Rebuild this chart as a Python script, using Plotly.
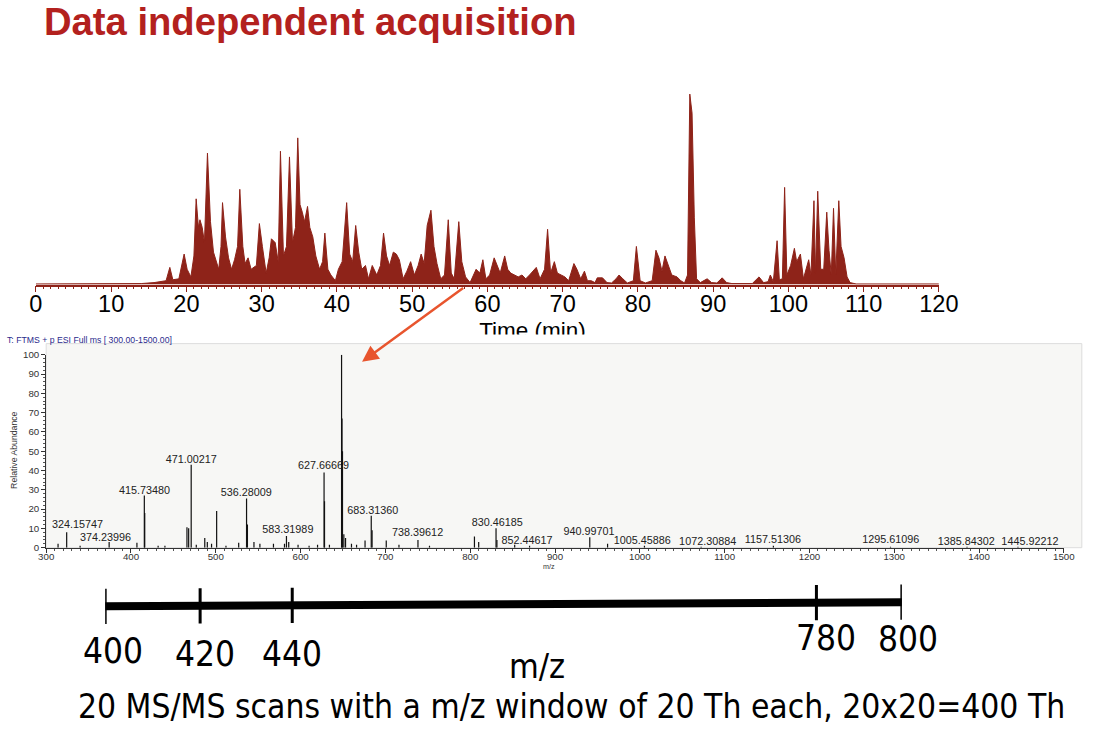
import plotly.graph_objects as go

W, H = 1105, 731
# The photographed page shows the figure offset by the page margin and slightly scaled;
# positions below are given in the photographed picture's pixels and mapped back here.
S, OFF = 0.975, 8


def X(a):
    return (a / S - OFF) / W


def Y(a):
    return 1 - (a / S - OFF) / H


# ---------------- data ----------------
chrom_time = [0, 5, 10, 14, 15.7, 16.5, 17.3, 17.8, 18.2, 19.0, 19.4, 19.7, 20.1, 20.6, 21.0, 21.3, 21.6,
              21.8, 22.1, 22.4, 22.8, 23.2, 23.6, 24.0, 24.3, 24.6, 24.8, 25.2, 25.6, 26.0, 26.4, 26.8,
              27.1, 27.5, 27.8, 28.2, 28.6, 29.3, 29.7, 30.1, 30.6, 31.0, 31.3, 31.8, 32.2, 32.5, 32.9,
              33.3, 33.7, 34.1, 34.5, 34.8, 35.1, 35.4, 35.7, 36.1, 36.4, 36.8, 37.2, 37.7, 38.1, 38.4,
              38.8, 39.2, 39.8, 40.2, 40.7, 41.3, 41.7, 42.1, 42.5, 42.9, 43.3, 43.8, 44.2, 44.7, 45.3,
              45.8, 46.2, 46.6, 47.0, 47.5, 47.9, 48.3, 48.8, 49.3, 49.8, 50.3, 50.8, 51.2, 51.6, 52.0,
              52.5, 52.9, 53.3, 53.8, 54.3, 54.8, 55.2, 55.6, 56.2, 56.6, 57.1, 57.7, 58.5, 59.0, 59.4,
              59.8, 60.3, 60.9, 61.3, 61.7, 62.3, 62.7, 63.1, 63.6, 64.1, 64.6, 65.1, 65.6, 66.5, 67.0,
              67.6, 68.0, 68.4, 68.9, 69.3, 69.8, 70.3, 70.8, 71.5, 71.9, 72.4, 72.9, 73.3, 73.8, 74.3,
              74.6, 75.3, 75.9, 76.5, 77.1, 77.5, 78.0, 78.6, 79.4, 79.8, 80.3, 81.0, 81.9, 82.4, 82.8,
              83.2, 83.6, 84.0, 84.5, 85.2, 85.7, 86.2, 86.6, 86.9, 87.2, 87.5, 87.8, 88.3, 89.2, 89.8,
              90.5, 91.2, 91.8, 92.5, 95.2, 96.1, 96.7, 97.3, 97.6, 98.0, 98.5, 98.8, 99.2, 99.5, 99.8,
              100.3, 100.8, 101.1, 101.6, 102.0, 102.4, 102.7, 103.0, 103.4, 103.6, 103.9, 104.3, 104.7,
              105.1, 105.4, 105.7, 106.0, 106.3, 106.7, 107.0, 107.4, 107.8, 108.2, 109.0, 115, 120]
chrom_intensity = [0.3, 0.4, 0.4, 0.5, 1.0, 1.5, 2, 9, 2.5, 3, 10, 16, 8, 4, 15, 45, 30,
                   34, 30, 22, 69, 33, 17, 11, 8, 20, 43, 25, 14, 8, 13, 20,
                   50, 20, 11, 14, 8, 10, 32, 20, 6, 14, 24, 22, 12, 70, 15,
                   20, 67, 22, 30, 77, 42, 38, 33, 41, 30, 25, 15, 8, 12, 27,
                   8, 5, 2, 8, 12, 43, 16, 12, 31, 17, 8, 10, 3, 10, 5,
                   10, 27, 15, 10, 17, 16, 13, 3, 7, 12, 5, 10, 16, 11, 31,
                   39, 20, 11, 3, 5, 34, 6, 3, 33, 12, 4, 1, 8, 6, 13,
                   3, 5, 14, 10, 6, 15, 8, 6, 5, 4, 5, 3, 5, 9, 3,
                   8, 29, 6, 12, 6, 5, 4, 2, 11, 8, 3, 7, 2, 2, 1,
                   3.5, 3.5, 1, 0.8, 3, 5, 3, 0.8, 2, 20, 2, 0.8, 2, 18, 14,
                   7, 15, 10, 5, 4, 2, 0.8, 5, 100, 90, 35, 3, 1, 3, 1,
                   0.8, 3.5, 1, 0.5, 0.5, 4, 1, 1.5, 5, 1.5, 23, 2.5, 3, 51, 5,
                   10, 19, 12, 16, 3, 8, 13, 5, 44, 6, 49, 8, 8,
                   38, 18, 5, 40, 5, 44, 20, 14, 4, 1, 0.3, 0.3, 0.3]
time_ticks = list(range(0, 121, 10))

spec_mz = [314, 324.16, 340, 374.24, 407, 415.73, 416.2, 432, 440, 466, 468, 471.00, 477, 487, 490, 495,
           501, 512, 527, 536.28, 537.3, 545, 552, 568, 581, 583.32, 586, 597, 610, 620, 627.67, 628.2,
           634, 648.31, 648.8, 649.4, 651, 653, 660, 666, 676, 683.31, 684.3, 701, 716, 738.40, 752,
           805, 810, 830.46, 831.5, 852.45, 870, 941.0, 962, 1005.46, 1072.31, 1157.51, 1295.61,
           1385.84, 1445.92]
spec_abundance = [2, 8, 1, 3, 2.6, 27, 18, 1, 1, 10.6, 10, 43, 1.5, 5, 3, 2,
                  19, 1, 2.6, 25.5, 12, 3, 2, 2, 2, 6, 3, 1.5, 1, 1.5, 39, 24,
                  1.5, 100, 67, 50, 7, 5, 2, 1.5, 3.7, 16.6, 9, 3.7, 1.5, 4, 1,
                  5.8, 3, 10, 4, 1.5, 1, 5.4, 2, 1, 0.5, 1, 0.5,
                  0.5, 0.5]
peak_labels = ["324.15747", "374.23996", "415.73480", "471.00217", "536.28009", "583.31989",
               "627.66669", "648.30872", "683.31360", "738.39612", "830.46185", "852.44617",
               "940.99701", "1005.45886", "1072.30884", "1157.51306", "1295.61096", "1385.84302",
               "1445.92212"]
peak_label_mz = [337, 370, 416, 471, 536, 585, 627, 647, 685, 738, 832, 867, 940, 1003, 1080, 1157,
                 1296, 1385, 1460]
peak_label_abundance = [11.6, 4.8, 29, 45.5, 28.4, 8.8, 42, 103.5, 19, 7.2, 12.7, 3.1, 8, 3.1, 2.8,
                        3.7, 3.7, 2.8, 2.8]

window_edges = ["400", "420", "440", "780", "800"]
window_slots = [0, 1, 1.97, 7.49, 8.39]          # schematic (non-linear) positions
window_line_level = [0.733, 0.767]               # slight tilt of the drawn bar
label_drop = [0.365, 0.40, 0.405, 0.295, 0.30]
label_shift = [8, 5, 0, 9, 6]

DARK_RED = "#8E2319"
TITLE_RED = "#B3211E"
ARROW = "#E8552E"
FONT = "Liberation Sans, Arial, sans-serif"
HAND = "DejaVu Sans Condensed, DejaVu Sans, sans-serif"

fig = go.Figure()

# ---------------- chromatogram ----------------
fig.add_trace(go.Scatter(
    x=chrom_time, y=chrom_intensity, mode="lines", fill="tozeroy",
    line=dict(color=DARK_RED, width=1), fillcolor=DARK_RED,
    xaxis="x", yaxis="y", hoverinfo="skip", showlegend=False))

# axis title, partly hidden under the spectrum image edge (clipped to a thin band)
fig.add_trace(go.Scatter(
    x=[66], y=[0.0], mode="text", text=["Time (min)"], textposition="middle center",
    textfont=dict(family=FONT, size=22.5, color="black"), cliponaxis=True,
    xaxis="x4", yaxis="y4", hoverinfo="skip", showlegend=False))

# ---------------- mass spectrum ----------------
sx, sy = [], []
for m, a in zip(spec_mz, spec_abundance):
    sx += [m, m, None]
    sy += [0, a, None]
fig.add_trace(go.Scatter(
    x=sx, y=sy, mode="lines", line=dict(color="#111111", width=1.2),
    xaxis="x2", yaxis="y2", hoverinfo="skip", showlegend=False))

fig.add_trace(go.Scatter(
    x=peak_label_mz, y=peak_label_abundance, mode="text", text=peak_labels,
    textposition="middle center", textfont=dict(family=FONT, size=10.8, color="#222222"),
    cliponaxis=False, xaxis="x2", yaxis="y2", hoverinfo="skip", showlegend=False))

# ---------------- m/z window schematic ----------------
slope = (window_line_level[1] - window_line_level[0]) / (window_slots[-1] - window_slots[0])
levels = [window_line_level[0] + slope * (s - window_slots[0]) for s in window_slots]
fig.add_trace(go.Scatter(
    x=[window_slots[0], window_slots[-1]], y=window_line_level, mode="lines",
    line=dict(color="black", width=8), xaxis="x3", yaxis="y3",
    hoverinfo="skip", showlegend=False))
tx, ty = [], []
for s, lv in zip(window_slots, levels):
    tx += [s, s, None]
    ty += [lv - 0.145, lv + 0.145, None]
fig.add_trace(go.Scatter(
    x=tx, y=ty, mode="lines", line=dict(color="black", width=3),
    xaxis="x3", yaxis="y3", hoverinfo="skip", showlegend=False))

for lab, s, lv, drop, sh in zip(window_edges, window_slots, levels, label_drop, label_shift):
    fig.add_annotation(x=s, y=lv - drop, xref="x3", yref="y3", text=lab, showarrow=False,
                       xshift=sh / S, xanchor="center", yanchor="middle",
                       font=dict(family=HAND, size=35, color="black"))

# ---------------- layout ----------------
fig.update_layout(
    width=W, height=H, autosize=False,
    margin=dict(l=0, r=0, t=0, b=0),
    paper_bgcolor="white", plot_bgcolor="rgba(0,0,0,0)",
    showlegend=False,
    xaxis=dict(domain=[X(35.7), X(939)], range=[0, 120], anchor="y",
               tickvals=time_ticks, showline=True, linecolor=DARK_RED, linewidth=1.5,
               ticks="outside", ticklen=6, tickwidth=1.2, tickcolor=DARK_RED,
               minor=dict(dtick=1, ticks="outside", ticklen=3, tickcolor=DARK_RED),
               ticklabelstandoff=-8,
               showgrid=False, zeroline=False,
               tickfont=dict(family=FONT, size=23.5, color="black")),
    yaxis=dict(domain=[Y(283.5), Y(95)], range=[0, 100], visible=False, fixedrange=True),
    # thin band used only to clip the partly hidden time-axis title
    xaxis4=dict(domain=[X(35.7), X(939)], range=[0, 120], visible=False, anchor="y4"),
    yaxis4=dict(domain=[Y(333), Y(300)], range=[-0.06, 0.94], visible=False, anchor="x4"),
    xaxis2=dict(domain=[X(46), X(1064)], range=[300, 1500], anchor="y2",
                dtick=100, showline=True, linecolor="#333333", linewidth=1,
                ticks="outside", ticklen=4, tickcolor="#333333",
                minor=dict(dtick=10, ticks="outside", ticklen=2, tickcolor="#555555"),
                ticklabelstandoff=-4,
                showgrid=False, zeroline=False,
                tickfont=dict(family=FONT, size=9.7, color="#333333")),
    yaxis2=dict(domain=[Y(544), Y(353)], range=[0, 100], anchor="x2",
                dtick=10, showline=True, linecolor="#333333", linewidth=1,
                ticks="outside", ticklen=4, tickcolor="#333333",
                minor=dict(dtick=2, ticks="outside", ticklen=2, tickcolor="#555555"),
                showgrid=False, zeroline=False,
                tickfont=dict(family=FONT, size=9.7, color="#333333")),
    xaxis3=dict(domain=[X(105), X(902)], range=[window_slots[0], window_slots[-1]],
                visible=False, anchor="y3"),
    yaxis3=dict(domain=[Y(690), Y(570)], range=[0, 1], visible=False, anchor="x3"),
)

# spectrum panel background
fig.add_shape(type="rect", xref="paper", yref="paper",
              x0=X(46), x1=X(1082), y0=Y(544), y1=Y(342),
              fillcolor="#F7F7F5", line=dict(color="#DDDDDD", width=1), layer="below")


def note(x, y, text, size, color, family=FONT, **kw):
    fig.add_annotation(x=X(x), y=Y(y), xref="paper", yref="paper", showarrow=False,
                       text=text, font=dict(family=family, size=size, color=color),
                       xanchor=kw.pop("xanchor", "center"), yanchor="middle", **kw)


# title
note(42, 23, "<b>Data independent acquisition</b>", 38.2, TITLE_RED, xanchor="left")
# spectrum header and axis titles
note(5, 338, "T: FTMS + p ESI Full ms [ 300.00-1500.00]", 8.7, "#2B2B8C", xanchor="left")
note(13, 448, "Relative Abundance", 8.7, "#333333", textangle=-90)
note(549, 563, "m/z", 7.2, "#333333")

# arrow from chromatogram to spectrum
fig.add_annotation(x=X(362), y=Y(360), xref="paper", yref="paper", ax=100 / S, ay=-73 / S,
                   showarrow=True, arrowhead=2, arrowsize=1.3, arrowwidth=2.5,
                   arrowcolor=ARROW, text="")

# schematic texts
note(537, 661, "m/z", 34, "black", family=HAND)
note(571, 701.5, "20 MS/MS scans with a m/z window of 20 Th each, 20x20=400 Th", 33.3, "black",
     family=HAND)

fig.write_html("out.html")
